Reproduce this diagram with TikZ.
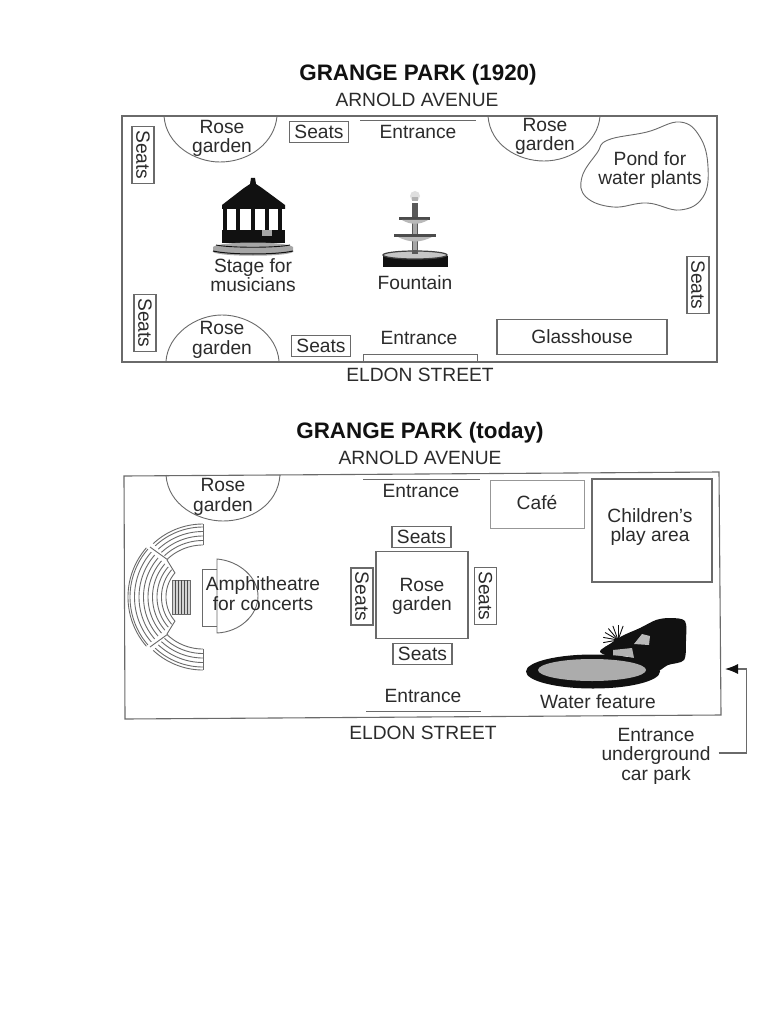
\documentclass[tikz,border=0pt]{standalone}
\usepackage{fontspec}
\setmainfont{Liberation Sans}
\usetikzlibrary{arrows.meta}
\definecolor{ink}{HTML}{2B2B2B}
\definecolor{edge}{HTML}{6A6A6A}
\definecolor{dark}{HTML}{111111}
\tikzset{
  lbl/.style={font=\fontsize{19.2}{19.5}\selectfont,text=ink,align=center,inner sep=0pt},
  ttl/.style={font=\fontsize{22.4}{24}\selectfont\bfseries,text=dark,inner sep=0pt},
  frame/.style={draw=edge,line width=1.1pt},
  thin line/.style={draw=edge,line width=0.9pt},
  seatsh/.style={draw=edge,line width=1.2pt,lbl,minimum width=59pt,minimum height=21pt},
  seatsv/.style={draw=edge,line width=1.2pt,lbl,minimum width=57pt,minimum height=22pt,rotate=-90},
}
\begin{document}
\begin{tikzpicture}[x=1pt,y=-1pt]
\fill[white] (0,0) rectangle (768,1024);
\useasboundingbox (0,0) rectangle (768,1024);

% ===== 1920 =====
\node[ttl] (t1) at (418,75) {GRANGE PARK (1920)};
\node[lbl] (a1) at (417,100) {ARNOLD AVENUE};
\node[lbl] (e1) at (420,375) {ELDON STREET};
\draw[frame] (122,116) rectangle (717,362);

% rose gardens
\draw[thin line] (164,116) .. controls (166,145) and (195,162) .. (220,162) .. controls (250,162) and (275,142) .. (277,116);
\draw[thin line] (488,116) .. controls (490,145) and (518,161) .. (544,161) .. controls (572,161) and (598,142) .. (600,116);
\draw[thin line] (166,361) .. controls (168,335) and (195,315) .. (222,315) .. controls (250,315) and (277,335) .. (279,361);
\node[lbl] (rg1) at (222,138.5) {Rose\\garden};
\node[lbl] (rg2) at (545,136.5) {Rose\\garden};
\node[lbl] (rg3) at (222,340) {Rose\\garden};

% seats
\node[seatsv] (s1) at (143,155) {Seats};
\node[seatsh] (s2) at (319,132) {Seats};
\node[seatsv] (s3) at (145,323) {Seats};
\node[seatsh] (s4) at (321,346) {Seats};
\node[seatsv] (s5) at (698,285) {Seats};

% entrances
\draw[thin line] (360,120) -- (476,120);
\draw[thin line] (363,361) -- (363,354) -- (477,354) -- (477,361);
\node[lbl] (en1) at (418,132) {Entrance};
\node[lbl] (en2) at (419,338) {Entrance};

% pond
\draw[thin line] plot[smooth cycle,tension=0.7] coordinates {(608,140) (647,132) (680,122) (700,137) (708,167) (703,197) (680,210) (647,203) (613,207) (586,197) (582,177) (597,153)};
\node[lbl] (pd) at (650,170) {Pond for\\water plants};

% glasshouse
\node[draw=edge,line width=1.1pt,lbl,minimum width=170pt,minimum height=35pt] (gh) at (582,337) {Glasshouse};

% gazebo
\fill[dark] (250,184) -- (251,178) -- (255,178) -- (256,184) -- (262,188) -- (285,205) -- (285,209) -- (222,209) -- (222,205) -- (244,188) -- cycle;
\foreach \px in {225,238,253,267,280}{\fill[dark] (\px-2,208) rectangle (\px+2,232);}
\fill[dark] (222,230) rectangle (285,243);
\fill[gray!70] (262,230) rectangle (272,236);
\fill[gray!70] (213,247) .. controls (220,241) and (286,241) .. (293,247) -- (293,252) .. controls (286,257) and (220,257) .. (213,252) -- cycle;
\draw[dark,line width=0.9pt] (216,245) .. controls (230,248) and (276,248) .. (290,245);
\draw[dark,line width=1pt] (213,251) .. controls (230,255) and (276,255) .. (293,251);
\node[lbl] (sg) at (253,275) {Stage for\\musicians};

% fountain
\fill[gray!25] (415,196) circle (5);
\fill[gray!60] (412,197) rectangle (418,201);
\fill[black!65] (412,203) rectangle (418,250);
\fill[gray!70] (413,221) rectangle (417,250);
\fill[black!70] (399,217) rectangle (430,220);
\fill[gray!55] (402,220) .. controls (410,225) and (420,225) .. (428,220) -- cycle;
\fill[black!70] (394,234) rectangle (436,237);
\fill[gray!55] (398,237) .. controls (410,243) and (420,243) .. (432,237) -- cycle;
\fill[dark] (383,256) -- (448,256) -- (448,267) -- (383,267) -- cycle;
\draw[black!75,line width=1.2pt,fill=gray!45] (415,255) ellipse [x radius=32,y radius=4];
\fill[black!65] (412,250) rectangle (418,254);
\node[lbl] (fn) at (415,283) {Fountain};

% ===== today =====
\node[ttl] (t2) at (420,433) {GRANGE PARK (today)};
\node[lbl] (a2) at (420,458) {ARNOLD AVENUE};
\node[lbl] (e2) at (423,733) {ELDON STREET};
\draw[frame] (124,476) -- (719,472) -- (721,715) -- (125,719) -- cycle;

\draw[thin line] (166,475) .. controls (168,505) and (198,521) .. (223,521) .. controls (250,521) and (278,505) .. (280,475);
\node[lbl] (rg4) at (223,497) {Rose\\garden};

\draw[thin line] (363,479) -- (480,479);
\draw[thin line] (366,711) -- (481,711);
\node[lbl] (en3) at (421,491) {Entrance};
\node[lbl] (en4) at (423,696) {Entrance};

\node[draw=edge!70,line width=1pt,minimum width=94pt,minimum height=48pt,inner sep=0pt] (cf) at (537,504) {};
\node[lbl] (cft) at (537,503) {Café};
\node[draw=edge,line width=1.1pt,minimum width=120pt,minimum height=103pt,inner sep=0pt] (pl) at (652,530.5) {};
\node[lbl] (plt) at (650,527) {Children's\\play area};

% central rose garden
\node[draw=edge,line width=1.1pt,minimum width=92pt,minimum height=87pt,inner sep=0pt] (rg5) at (422,595) {};
\node[lbl] (rg5t) at (422,596.5) {Rose\\garden};
\node[seatsh] (s6) at (421.5,537) {Seats};
\node[seatsh] (s7) at (422.5,654) {Seats};
\node[seatsv] (s8) at (362,596.5) {Seats};
\node[seatsv] (s9) at (485.5,596) {Seats};

% amphitheatre
\foreach \r in {37,41.5,46,50.5,55,59.5,64,68.5,73,75}{
  \draw[edge,line width=0.9pt] plot[domain=139:221,samples=40,smooth,variable=\a] ({203+\r*cos(\a)},{597-\r*sin(\a)});
}
\foreach \r in {52,56.5,61,65.5,70,73}{
  \draw[edge,line width=0.9pt] plot[domain=90:133,samples=20,smooth,variable=\a] ({203+\r*cos(\a)},{597-\r*sin(\a)});
  \draw[edge,line width=0.9pt] plot[domain=227:270,samples=20,smooth,variable=\a] ({203+\r*cos(\a)},{597-\r*sin(\a)});
}
\draw[edge,line width=0.9pt] (203,524) -- (203,545) (203,649) -- (203,670);
\draw[edge,line width=0.9pt] (175,573) -- (167,560) (175,621) -- (167,634);
\draw[edge,line width=0.9pt] (150,547) -- (168,560) (150,647) -- (168,634);
\draw[edge,line width=1pt,fill=gray!35] (172,580) rectangle (190,614);
\foreach \lx in {175,178,181,184,187}{\draw[black!70,line width=0.8pt] (\lx,580) -- (\lx,614);}
\draw[thin line] (217,569) -- (202,569) -- (202,626) -- (217,626);
\draw[thin line] (217,559) .. controls (240,561) and (258,578) .. (258,596) .. controls (258,615) and (240,632) .. (217,633) -- cycle;
\node[lbl] (am) at (263,593.5) {Amphitheatre\\for concerts};

% water feature
\foreach \a in {70,90,...,210}{\draw[dark,line width=0.9pt] (618,640) -- ++({15*cos(\a)},{-15*sin(\a)});}
\fill[dark] plot[smooth cycle,tension=0.5] coordinates {(656,620) (670,618) (685,621) (686,640) (684,660) (668,665) (655,672) (640,662) (620,660) (600,652) (610,644) (622,636) (640,628)};
\fill[gray!55] (634,644) -- (642,634) -- (650,636) -- (649,645) -- cycle;
\fill[gray!60] (613,650) -- (632,648) -- (634,658) -- (613,659) -- cycle;
\fill[gray!15] (611,656) rectangle (628,661);
\fill[dark] (593,671.5) ellipse [x radius=67,y radius=17];
\fill[gray!65] (592,670) ellipse [x radius=54,y radius=11];
\node[lbl] (wf) at (598,702) {Water feature};

% car park entrance
\node[lbl] (cp) at (656,756) {Entrance\\underground\\car park};
\coordinate (cpin) at (725,669);
\draw[edge,line width=1.2pt,-{Latex[length=13pt,width=10pt,color=dark]}] (cp.east) ++(8,-3) -- ++(28,0) |- (cpin);
\end{tikzpicture}
\end{document}
